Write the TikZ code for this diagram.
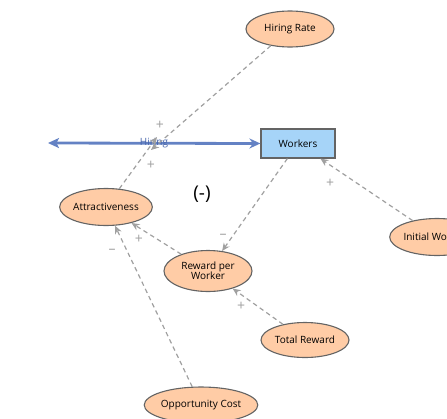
\documentclass[tikz,border=0pt]{standalone}
\usepackage{fontspec}
\setmainfont{Open Sans}
\usetikzlibrary{shapes.geometric,arrows.meta}
\definecolor{peach}{RGB}{255,204,166}
\definecolor{stockblue}{RGB}{166,212,248}
\definecolor{edgegray}{RGB}{100,100,100}
\definecolor{linkgray}{RGB}{160,160,160}
\definecolor{flowblue}{RGB}{100,130,196}
\definecolor{labelblue}{RGB}{70,100,170}
\tikzset{
  aux/.style={ellipse, draw=edgegray, line width=1.1pt, fill=peach, minimum width=88pt, minimum height=36pt, inner sep=0pt, font=\fontsize{10}{11}\selectfont, align=center},
  stockbox/.style={rectangle, draw=edgegray, line width=1.2pt, fill=stockblue, minimum width=74pt, minimum height=29pt, inner sep=0pt, font=\fontsize{10}{11}\selectfont},
  link/.style={draw=linkgray, line width=1.2pt, dash pattern=on 4.5pt off 3.5pt, -{Stealth[length=8pt,width=7pt,fill=linkgray]}},
  sign/.style={text=linkgray, font=\fontsize{14}{15}\selectfont, inner sep=0pt},
  flowline/.style={draw=flowblue, line width=2.8pt, {Stealth[length=11pt,width=10pt,inset=2.5pt]}-{Stealth[length=11pt,width=10pt]}}
}
\begin{document}
\begin{tikzpicture}[x=1pt,y=-1pt]
\useasboundingbox (0,0) rectangle (447,418);
\clip (0,0) rectangle (447,418);
% nodes
\node[aux] (hr) at (290,29) {Hiring Rate};
\node[stockbox] (wk) at (298,143.5) {Workers};
\node[aux, minimum width=92pt, minimum height=37pt] (attr) at (106,207) {Attractiveness};
\node[aux, minimum height=41pt] (rpw) at (208,271) {Reward per\\[-1pt]Worker};
\node[aux, minimum height=35pt] (tr) at (305,340) {Total Reward};
\node[aux] (oc) at (201,405) {Opportunity Cost};
\node[aux, minimum height=37pt] (iw) at (437,237) {Initial Workers};
% flow
\coordinate (src) at (48,143);
\draw[flowline] (src) -- (wk.west);
\node[text=labelblue, font=\fontsize{10}{11}\selectfont, inner sep=0pt] (hiring) at (154,143) {Hiring};
\coordinate (hvA) at (151,150);
\coordinate (hvB) at (157,137);
% links
\draw[link] (hr) -- (hvA);
\draw[link] (attr) -- (hvB);
\draw[link] (wk) -- (rpw);
\draw[link] (iw) -- (wk);
\draw[link] (rpw) -- (attr);
\draw[link] (oc) -- (attr);
\draw[link] (tr) -- (rpw);
% signs
\node[sign] (s1) at (160,125) {+};
\node[sign] (s2) at (151,165) {+};
\node[sign] (s3) at (223,236) {\textendash};
\node[sign] (s4) at (330,183) {+};
\node[sign] (s5) at (139,239) {+};
\node[sign] (s6) at (112,251) {\textendash};
\node[sign] (s7) at (241,306) {+};
\node[font=\fontsize{19}{20}\selectfont, inner sep=0pt] (loop) at (202,194) {(-)};
\end{tikzpicture}
\end{document}
